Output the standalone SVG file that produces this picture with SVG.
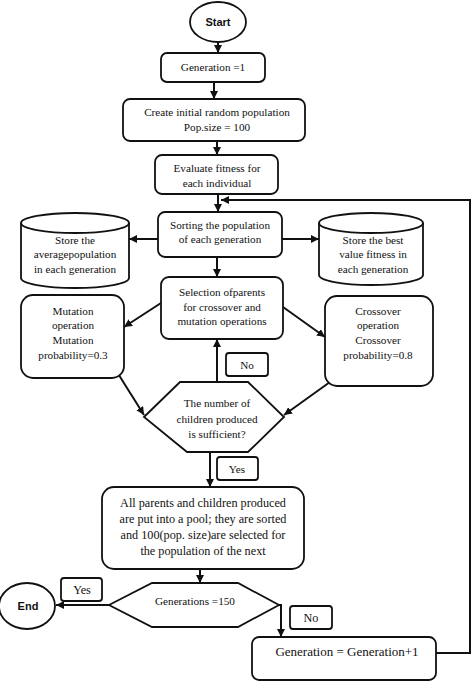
<svg xmlns="http://www.w3.org/2000/svg" width="474" height="682" viewBox="0 0 474 682">
<defs>
<marker id="ah" viewBox="0 0 10 10" refX="10" refY="5" markerWidth="8" markerHeight="8" markerUnits="userSpaceOnUse" orient="auto">
<path d="M0,0 L10,5 L0,10 z" fill="#111"/>
</marker>
<style>
.b{fill:#fff;stroke:#111;stroke-width:1.8}
text.t{font-family:'Liberation Serif','Times New Roman',serif;font-size:11.2px;fill:#111;text-anchor:middle}
text.L{font-size:12.2px}
text.X{font-size:13px}
text.s{font-family:'Liberation Sans',Arial,sans-serif;font-size:11px;font-weight:bold;fill:#111;text-anchor:middle}
.a{fill:none;stroke:#111;stroke-width:2;marker-end:url(#ah)}
</style>
</defs>
<rect width="474" height="682" fill="#fff"/>

<g id="connectors">
<line class="a" x1="218" y1="42" x2="218" y2="53"/>
<line class="a" x1="214" y1="82" x2="214" y2="99"/>
<line class="a" x1="217" y1="141" x2="217" y2="155"/>
<line class="a" x1="218" y1="194" x2="218" y2="212"/>
<polyline class="a" points="436,653 470,653 470,200 221,200"/>
<line class="a" x1="158" y1="239" x2="129" y2="239"/>
<line class="a" x1="282" y1="239" x2="319" y2="239"/>
<line class="a" x1="217" y1="257" x2="217" y2="277"/>
<line class="a" x1="161" y1="303" x2="124" y2="327"/>
<line class="a" x1="283" y1="307" x2="325" y2="337"/>
<line class="a" x1="117" y1="372" x2="144" y2="415"/>
<line class="a" x1="330" y1="382" x2="284" y2="415"/>
<line class="a" x1="217" y1="383" x2="217" y2="339"/>
<line class="a" x1="210" y1="445" x2="210" y2="487"/>
<line class="a" x1="200" y1="569" x2="200" y2="583"/>
<line class="a" x1="109" y1="605" x2="56" y2="605"/>
<polyline class="a" points="279,605 281,605 281,637"/>
</g>

<g id="start">
<ellipse class="b" cx="218" cy="22" rx="28" ry="20"/>
<text class="s" x="218" y="26">Start</text>
</g>
<g id="gen1">
<rect class="b" x="161" y="53" width="104" height="29" rx="6"/>
<text class="t" x="213" y="71">Generation =1</text>
</g>
<g id="create">
<rect class="b" x="123" y="99" width="182" height="42" rx="7"/>
<text class="t" x="217" y="116">Create initial random population</text>
<text class="t" x="217" y="131">Pop.size = 100</text>
</g>
<g id="evaluate">
<rect class="b" x="155" y="155" width="123" height="39" rx="7"/>
<text class="t" x="217" y="172">Evaluate fitness for</text>
<text class="t" x="217" y="187">each individual</text>
</g>
<g id="sorting">
<rect class="b" x="158" y="212" width="124" height="45" rx="7"/>
<text class="t" x="220" y="229">Sorting the population</text>
<text class="t" x="220" y="243">of each generation</text>
</g>
<g id="storeavg">
<path class="b" d="M21,223 L21,278 A54,10 0 0 0 129,278 L129,223 A54,10 0 0 0 21,223 Z"/>
<path class="b" d="M21,223 A54,10 0 0 0 129,223" fill="none"/>
<text class="t" x="75" y="244">Store the</text>
<text class="t" x="75" y="258">averagepopulation</text>
<text class="t" x="75" y="273">in each generation</text>
</g>
<g id="storebest">
<path class="b" d="M319,223 L319,275 A52,10 0 0 0 423,275 L423,223 A52,10 0 0 0 319,223 Z"/>
<path class="b" d="M319,223 A52,10 0 0 0 423,223" fill="none"/>
<text class="t" x="373" y="244">Store the best</text>
<text class="t" x="373" y="258">value fitness in</text>
<text class="t" x="373" y="273">each generation</text>
</g>
<g id="selection">
<rect class="b" x="161" y="277" width="122" height="62" rx="8"/>
<text class="t" x="222" y="296">Selection ofparents</text>
<text class="t" x="222" y="311">for crossover and</text>
<text class="t" x="222" y="325">mutation operations</text>
</g>
<g id="mutation">
<rect class="b" x="21" y="295" width="103" height="83" rx="12"/>
<text class="t" x="73" y="315">Mutation</text>
<text class="t" x="73" y="329">operation</text>
<text class="t" x="73" y="344">Mutation</text>
<text class="t" x="73" y="359">probability=0.3</text>
</g>
<g id="crossover">
<rect class="b" x="325" y="296" width="108" height="90" rx="12"/>
<text class="t" x="378" y="315">Crossover</text>
<text class="t" x="378" y="329">operation</text>
<text class="t" x="378" y="344">Crossover</text>
<text class="t" x="378" y="359">probability=0.8</text>
</g>
<g id="no1">
<rect class="b" x="226" y="353" width="42" height="23" rx="3"/>
<text class="t" x="247" y="369">No</text>
</g>
<g id="sufficient">
<polygon class="b" points="144,417 180,382 248,382 284,417 248,452 187,452"/>
<text class="t" x="217" y="407">The number of</text>
<text class="t" x="217" y="423">children produced</text>
<text class="t" x="217" y="438">is sufficient?</text>
</g>
<g id="yes1">
<rect class="b" x="217" y="457" width="41" height="23" rx="3"/>
<text class="t" x="237" y="473">Yes</text>
</g>
<g id="pool">
<rect class="b" x="102" y="487" width="202" height="82" rx="12"/>
<text class="t L" x="203" y="507">All parents and children produced</text>
<text class="t L" x="203" y="523">are put into a pool; they are sorted</text>
<text class="t L" x="203" y="539">and 100(pop. size)are selected for</text>
<text class="t L" x="203" y="555">the population of the next</text>
</g>
<g id="gen150">
<polygon class="b" points="109,605 152,583 238,583 279,605 238,627 152,627"/>
<text class="t" x="195" y="605">Generations =150</text>
</g>
<g id="end">
<ellipse class="b" cx="27" cy="606" rx="28" ry="23"/>
<text class="s" x="28" y="610">End</text>
</g>
<g id="yes2">
<rect class="b" x="61" y="578" width="41" height="23" rx="3"/>
<text class="t L" x="82" y="594">Yes</text>
</g>
<g id="no2">
<rect class="b" x="290" y="606" width="42" height="23" rx="3"/>
<text class="t L" x="311" y="622">No</text>
</g>
<g id="increment">
<rect class="b" x="252" y="637" width="184" height="43" rx="7"/>
<text class="t X" x="347" y="656">Generation = Generation+1</text>
</g>
</svg>
